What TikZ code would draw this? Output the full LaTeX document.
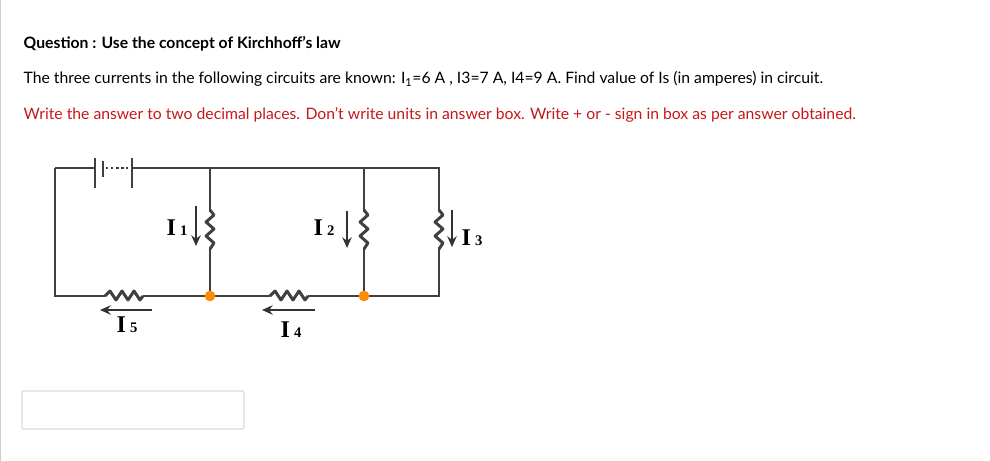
\documentclass[tikz,border=0pt]{standalone}
\usetikzlibrary{arrows.meta}
\usepackage{fontspec}
\setmainfont{Lato}
\newfontfamily\serif{Liberation Serif}
\begin{document}
\begin{tikzpicture}[x=0.75pt,y=-0.75pt,
  wire/.style={line width=2.2pt,color=black!75},
  cur/.style={line width=1.8pt,color=black!80,-{Stealth[length=8pt,width=7pt]}},
  lab/.style={font=\serif\bfseries\fontsize{18}{18}\selectfont,anchor=center},
  txt/.style={anchor=west,font=\fontsize{11.8}{14}\selectfont},
  jn/.style={circle,fill=orange!90!yellow,inner sep=0pt,minimum size=8pt}]
\useasboundingbox (0,0) rectangle (990,461);
\fill[white] (0,0) rectangle (990,461);
\draw[black!20] (0.5,0) -- (0.5,461);
\node[txt,font=\bfseries\fontsize{11.8}{14}\selectfont] (q) at (19,44) {Question : Use the concept of Kirchhoff's law};
\node[txt] (t1) at (19,79) {The three currents in the following circuits are known: I\textsubscript{1}=6 A , I3=7 A, I4=9 A. Find value of Is (in amperes) in circuit.};
\node[txt,text=red!75!black!90] (t2) at (19,115) {Write the answer to two decimal places. Don't write units in answer box. Write + or - sign in box as per answer obtained.};
\node[draw=black!25,rounded corners=1pt,minimum width=222*0.75pt,minimum height=38*0.75pt] (box) at (133,410) {};
% circuit coordinates
\coordinate (tl) at (55,168); \coordinate (bl) at (55,296);
\coordinate (tr) at (439,168); \coordinate (br) at (439,296);
% battery
\draw[wire] (tl) -- (95,168);
\draw[wire] (95,158) -- (95,188);
\draw[wire] (103,161) -- (103,177);
\draw[line width=1.8pt,black!75,dotted] (106,168) -- (128,168);
\draw[wire] (132,158) -- (132,188);
\draw[wire] (132,168) -- (tr) -- (br) -- (bl) -- (tl);
\draw[wire] (210,168) -- (210,296);
\draw[wire] (364,168) -- (364,296);
\foreach \x in {210,364,439}{
  \fill[white] (\x-7,212) rectangle (\x+7,248);
  \draw[wire,line join=round] (\x,210) -- (\x+4,215) -- (\x-4,222) -- (\x+4,229) -- (\x-4,236) -- (\x+4,243) -- (\x,249);}
% horizontal resistors
\foreach \a in {105,270}{
  \fill[white] (\a,290) rectangle (\a+38,302);
  \draw[wire,line join=round] (\a,296) -- (\a+5,291) -- (\a+11,300) -- (\a+17,291) -- (\a+23,300) -- (\a+29,291) -- (\a+35,300) -- (\a+38,296);}
\node[jn] (j1) at (210,296) {}; \node[jn] (j2) at (364,296) {};
% currents
\coordinate (a1s) at (196,206); \coordinate (a1e) at (196,246);
\draw[cur] (a1s) -- (a1e);
\coordinate (a2s) at (347,211); \coordinate (a2e) at (347,248);
\draw[cur] (a2s) -- (a2e);
\coordinate (a3s) at (452,210); \coordinate (a3e) at (452,247);
\draw[cur] (a3s) -- (a3e);
\coordinate (a5s) at (152,310); \coordinate (a5e) at (100,310);
\draw[cur] (a5s) -- (a5e);
\coordinate (a4s) at (315,310); \coordinate (a4e) at (262,310);
\draw[cur] (a4s) -- (a4e);
\node[lab] (l1) at (177,228) {I\,{\fontsize{11}{11}\selectfont 1}};
\node[lab] (l2) at (324,228) {I\,{\fontsize{11}{11}\selectfont 2}};
\node[lab] (l3) at (472,238) {I\,{\fontsize{11}{11}\selectfont 3}};
\node[lab] (l5) at (127,325) {I\,{\fontsize{11}{11}\selectfont 5}};
\node[lab] (l4) at (291,330) {I\,{\fontsize{11}{11}\selectfont 4}};
\end{tikzpicture}
\end{document}
